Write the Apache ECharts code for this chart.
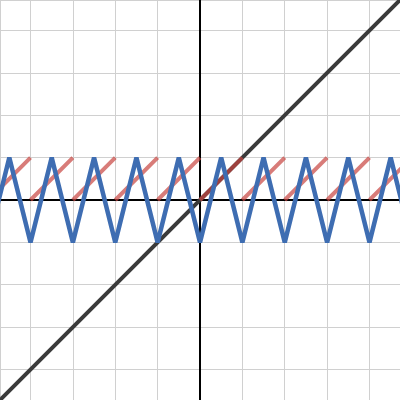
<!DOCTYPE html>
<html><head><meta charset="utf-8">
<script src="https://cdn.jsdelivr.net/npm/echarts@6/dist/echarts.min.js"></script>
<style>html,body{margin:0;padding:0;background:#fff}#c{width:400px;height:400px}</style>
</head><body><div id="c"></div>
<script>
const lineXY = [[-5,-5],[5,5]];
const sawtooth = [[-5,0],[-4,1],null,[-4,0],[-3,1],null,[-3,0],[-2,1],null,[-2,0],[-1,1],null,[-1,0],[0,1],null,[0,0],[1,1],null,[1,0],[2,1],null,[2,0],[3,1],null,[3,0],[4,1],null,[4,0],[5,1]];
const triangle = [[-5,-1],[-4.5,1],[-4,-1],[-3.5,1],[-3,-1],[-2.5,1],[-2,-1],[-1.5,1],[-1,-1],[-0.5,1],[0,-1],[0.5,1],[1,-1],[1.5,1],[2,-1],[2.5,1],[3,-1],[3.5,1],[4,-1],[4.5,1],[5,-1]];
const R = 4.72;
const chart = echarts.init(document.getElementById('c'));
const ax = {type:'value',min:-R,max:R,minInterval:1,maxInterval:1,
  axisLabel:{show:false},axisTick:{show:false},
  axisLine:{onZero:true,lineStyle:{color:'#000',width:2}},
  splitLine:{lineStyle:{color:'#d0d0d0',width:1}}};
chart.setOption({
  animation:false,
  grid:{left:0,right:0,top:0,bottom:0},
  xAxis:ax, yAxis:Object.assign({},ax),
  series:[
    {type:'line',data:lineXY,symbol:'none',lineStyle:{color:'#3a3a3a',width:4},z:3},
    {type:'line',data:sawtooth,symbol:'none',connectNulls:false,lineStyle:{color:'#c74440',width:4,opacity:0.7},z:4},
    {type:'line',data:triangle,symbol:'none',lineStyle:{color:'#3e6db2',width:4.5},z:5}
  ]
});
</script></body></html>
